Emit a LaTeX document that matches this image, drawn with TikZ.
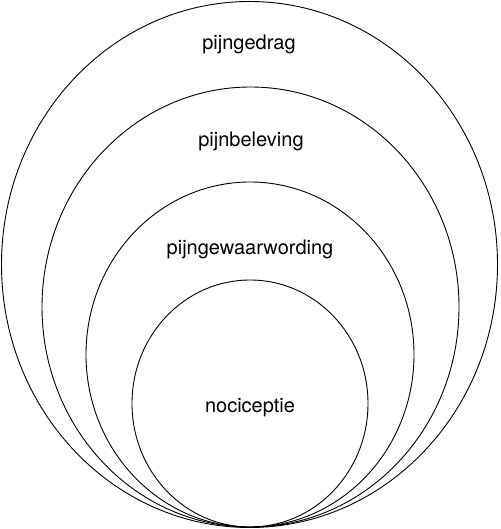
\documentclass[tikz,border=0pt]{standalone}
\usepackage{fontspec}
\setmainfont{TeX Gyre Heros}
\usetikzlibrary{shapes.geometric}
\begin{document}
\begin{tikzpicture}[x = 1pt, y = -1pt, every node/.style = {font = \fontsize{20}{24}\selectfont}]
        \useasboundingbox (0,0) rectangle (500,529);
        \node [draw, line width = 0.9pt, ellipse, inner sep = 0pt, minimum width = 496pt, minimum height = 526pt] (e-1) at (249.5,264.5) {};
        \node [draw, line width = 0.9pt, ellipse, inner sep = 0pt, minimum width = 417pt, minimum height = 440pt] (e-2) at (250.5,307) {};
        \node [draw, line width = 0.9pt, ellipse, inner sep = 0pt, minimum width = 328pt, minimum height = 345pt] (e-3) at (250,354.5) {};
        \node [draw, line width = 0.9pt, ellipse, inner sep = 0pt, minimum width = 236pt, minimum height = 247pt] (e-4) at (250,403.5) {};
        \node (t-1) at (249,44) {pijngedrag};
        \node (t-2) at (251,141) {pijnbeleving};
        \node (t-3) at (250,249) {pijngewaarwording};
        \node (t-4) at (250,408) {nociceptie};
    \end{tikzpicture}
\end{document}
